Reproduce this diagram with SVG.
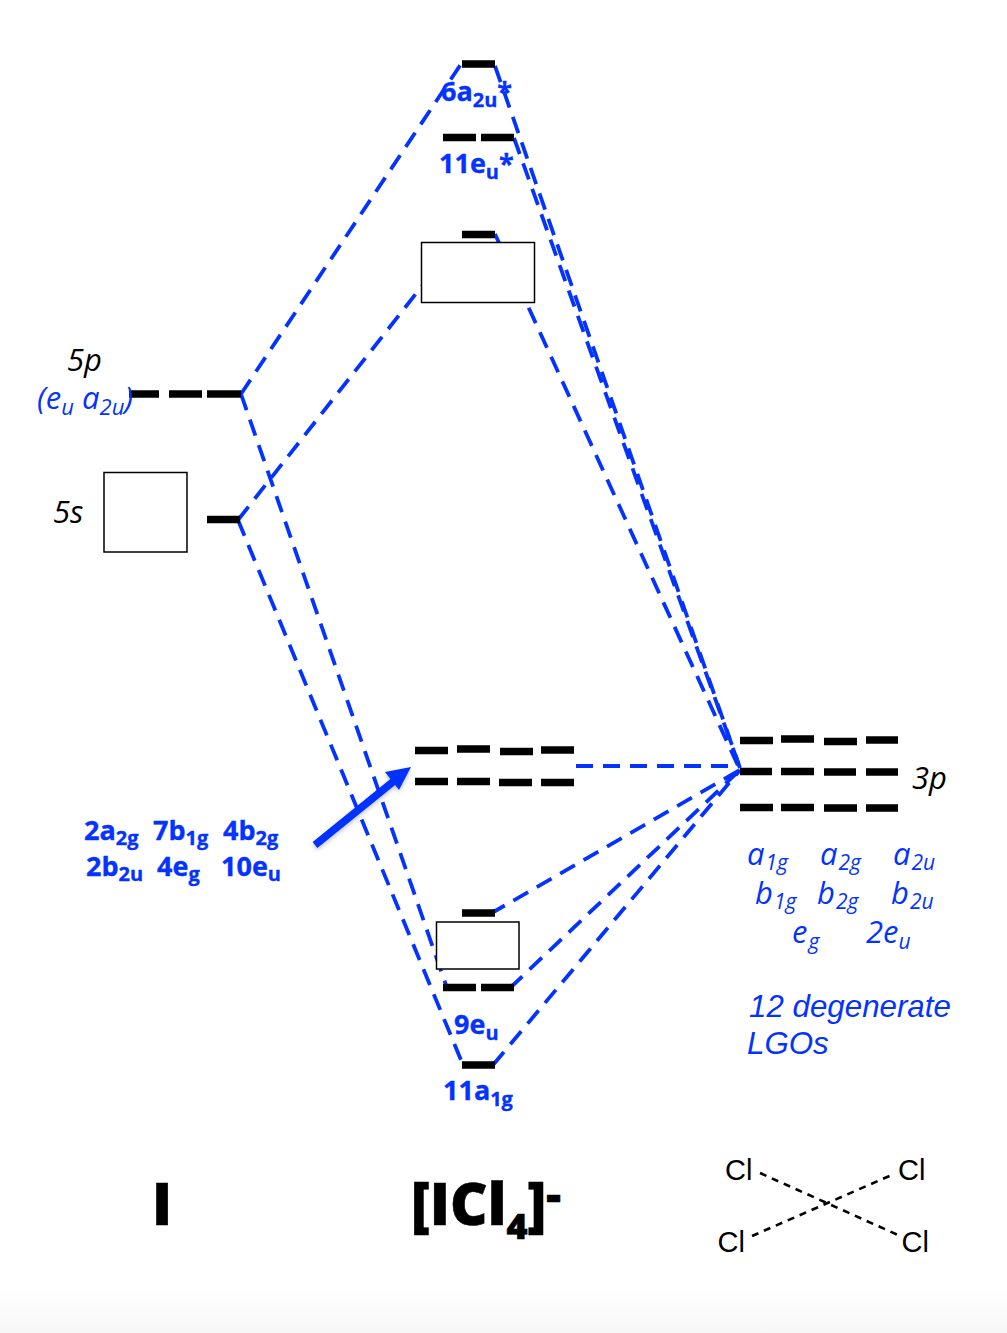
<svg xmlns="http://www.w3.org/2000/svg" width="1007" height="1333" viewBox="0 0 1007 1333">
<style>
.lv{fill:#000}
.box{fill:#fff;stroke:#000;stroke-width:1.5}
.c{fill:none;stroke:#0433ff;stroke-width:3.8;stroke-dasharray:17 10}
.b{font-family:"Open Sans",sans-serif;font-weight:700;fill:#0433ff;font-size:27px;stroke:#0433ff;stroke-width:.35}
.i{font-family:"Open Sans",sans-serif;font-style:italic;fill:#0433ff;font-size:31px}
.k{font-family:"Open Sans",sans-serif;font-style:italic;fill:#000;font-size:31px}
.h{font-family:"Open Sans",sans-serif;font-weight:800;fill:#000;font-size:58px;stroke:#000;stroke-width:.6}
.l{font-family:"Liberation Sans",sans-serif;font-style:italic;fill:#0433ff;font-size:31.300px}
.cl{font-family:"Liberation Sans",sans-serif;fill:#000;font-size:29px}
.d{fill:none;stroke:#000;stroke-width:2.6;stroke-dasharray:7 6}
</style>
<defs>
<linearGradient id="bg" x1="0" y1="0" x2="0" y2="1"><stop offset="0" stop-color="#fff"/><stop offset="1" stop-color="#f7f7f7"/></linearGradient>
<filter id="sh" x="-20%" y="-20%" width="140%" height="140%"><feDropShadow dx="0" dy="2" stdDeviation="2" flood-color="#000" flood-opacity="0.25"/></filter>
</defs>
<rect width="1007" height="1333" fill="#fff"/>
<rect y="1285" width="1007" height="48" fill="url(#bg)"/>
<g id="connectors">
<path class="c" d="M241 394L461 64"/>
<path class="c" d="M495 66L740 768"/>
<path class="c" d="M514 138L740 768"/>
<path class="c" d="M238 520L422 286"/>
<path class="c" d="M495 234L740 770"/>
<path class="c" d="M241 394L447 988"/>
<path class="c" d="M238 520L463 1065"/>
<path class="c" d="M576 766L740 766"/>
<path class="c" d="M490 914L740 770"/>
<path class="c" d="M510 988L740 770"/>
<path class="c" d="M493 1065L740 770"/>
</g>
<g id="iodine-5p">
<rect class="lv" x="129" y="390.250" width="30" height="7.500"/><rect class="lv" x="169" y="390.250" width="33" height="7.500"/><rect class="lv" x="207" y="390.250" width="34" height="7.500"/>
<text class="k" x="67" y="371">5p</text>
<text class="i" x="37" y="409">(e<tspan font-size="22" dy="6">u</tspan><tspan dy="-6"> a</tspan><tspan font-size="22" dy="6">2u</tspan><tspan dy="-6">)</tspan></text>
</g>
<g id="iodine-5s">
<rect class="box" x="104" y="472.500" width="83" height="79.500"/>
<rect class="lv" x="207" y="515.750" width="33" height="7.500"/>
<text class="k" x="53" y="523">5s</text>
</g>
<g id="mo-6a2u">
<rect class="lv" x="462" y="60.250" width="33" height="7.500"/>
<text class="b" x="441" y="101">6a<tspan font-size="20" dy="6">2u</tspan><tspan dy="-6">*</tspan></text>
</g>
<g id="mo-11eu">
<rect class="lv" x="443" y="133.750" width="33" height="7.500"/><rect class="lv" x="481" y="133.750" width="33" height="7.500"/>
<text class="b" x="439" y="173">11e<tspan font-size="20" dy="6">u</tspan><tspan dy="-6">*</tspan></text>
</g>
<g id="mo-upper-hidden">
<rect class="lv" x="462" y="230.750" width="33" height="7.500"/>
<rect class="box" x="421.500" y="242.500" width="113" height="60"/>
</g>
<g id="mo-nonbonding">
<rect class="lv" x="415" y="746.750" width="33" height="7.500"/><rect class="lv" x="457" y="745.250" width="33" height="7.500"/><rect class="lv" x="500" y="747.750" width="33" height="7.500"/><rect class="lv" x="541" y="746.250" width="33" height="7.500"/>
<rect class="lv" x="415" y="777.750" width="33" height="7.500"/><rect class="lv" x="457" y="777.750" width="33" height="7.500"/><rect class="lv" x="499" y="778.750" width="33" height="7.500"/><rect class="lv" x="541" y="778.750" width="33" height="7.500"/>
</g>
<g id="nonbonding-label">
<text class="b" x="84" y="840">2a<tspan font-size="20" dy="5">2g</tspan></text>
<text class="b" x="153" y="840">7b<tspan font-size="20" dy="5">1g</tspan></text>
<text class="b" x="223" y="840">4b<tspan font-size="20" dy="5">2g</tspan></text>
<text class="b" x="86" y="876">2b<tspan font-size="20" dy="5">2u</tspan></text>
<text class="b" x="157" y="876">4e<tspan font-size="20" dy="5">g</tspan></text>
<text class="b" x="221" y="876">10e<tspan font-size="20" dy="5">u</tspan></text>
<g filter="url(#sh)"><path d="M315 845L394 781" fill="none" stroke="#0433ff" stroke-width="7.500"/><path d="M411 767L385 772L399 790Z" fill="#0433ff"/></g>
</g>
<g id="mo-lower-hidden">
<rect class="lv" x="462" y="909.250" width="33" height="7.500"/>
<rect class="box" x="436.500" y="922" width="82.500" height="47"/>
</g>
<g id="mo-9eu">
<rect class="lv" x="443" y="983.750" width="33" height="7.500"/><rect class="lv" x="481" y="983.750" width="33" height="7.500"/>
<text class="b" x="454" y="1034">9e<tspan font-size="20" dy="6">u</tspan></text>
</g>
<g id="mo-11a1g">
<rect class="lv" x="462" y="1061.250" width="33" height="7.500"/>
<text class="b" x="443" y="1100">11a<tspan font-size="20" dy="6">1g</tspan></text>
</g>
<g id="lgo-3p">
<rect class="lv" x="740" y="736.750" width="33" height="7.500"/><rect class="lv" x="781" y="735.250" width="33" height="7.500"/><rect class="lv" x="824" y="737.750" width="33" height="7.500"/><rect class="lv" x="866" y="736.250" width="32" height="7.500"/>
<rect class="lv" x="740" y="767.750" width="32" height="7.500"/><rect class="lv" x="781" y="767.750" width="33" height="7.500"/><rect class="lv" x="824" y="768.250" width="32" height="7.500"/><rect class="lv" x="866" y="768.250" width="32" height="7.500"/>
<rect class="lv" x="740" y="803.750" width="33" height="7.500"/><rect class="lv" x="781" y="803.750" width="33" height="7.500"/><rect class="lv" x="824" y="804.250" width="33" height="7.500"/><rect class="lv" x="866" y="804.250" width="32" height="7.500"/>
<text class="k" x="912" y="789">3p</text>
</g>
<g id="lgo-labels">
<text class="i" x="747" y="865">a<tspan font-size="21" dx="1" dy="5">1g</tspan></text>
<text class="i" x="820" y="865">a<tspan font-size="21" dx="1" dy="5">2g</tspan></text>
<text class="i" x="893" y="865">a<tspan font-size="21" dx="1" dy="5">2u</tspan></text>
<text class="i" x="755" y="904">b<tspan font-size="21" dx="1" dy="5">1g</tspan></text>
<text class="i" x="817" y="904">b<tspan font-size="21" dx="1" dy="5">2g</tspan></text>
<text class="i" x="891" y="904">b<tspan font-size="21" dx="1" dy="5">2u</tspan></text>
<text class="i" x="792" y="943">e<tspan font-size="21" dx="1" dy="6">g</tspan></text>
<text class="i" x="866" y="943">2e<tspan font-size="21" dy="6">u</tspan></text>
<text class="l" x="749" y="1017">12 degenerate</text>
<text class="l" x="747" y="1054">LGOs</text>
</g>
<g id="label-I"><text class="h" x="152" y="1225">I</text></g>
<g id="label-ICl4"><text class="h" x="411" y="1225">[ICl<tspan font-size="36" dy="14">4</tspan><tspan dy="-14">]</tspan><tspan font-size="46" dy="-14">-</tspan></text></g>
<g id="structure">
<path class="d" d="M760 1173L898 1235"/>
<path class="d" d="M752 1236L894 1174"/>
<text class="cl" x="725" y="1180">Cl</text>
<text class="cl" x="898" y="1180">Cl</text>
<text class="cl" x="717.500" y="1252">Cl</text>
<text class="cl" x="901.500" y="1252">Cl</text>
</g>
</svg>
